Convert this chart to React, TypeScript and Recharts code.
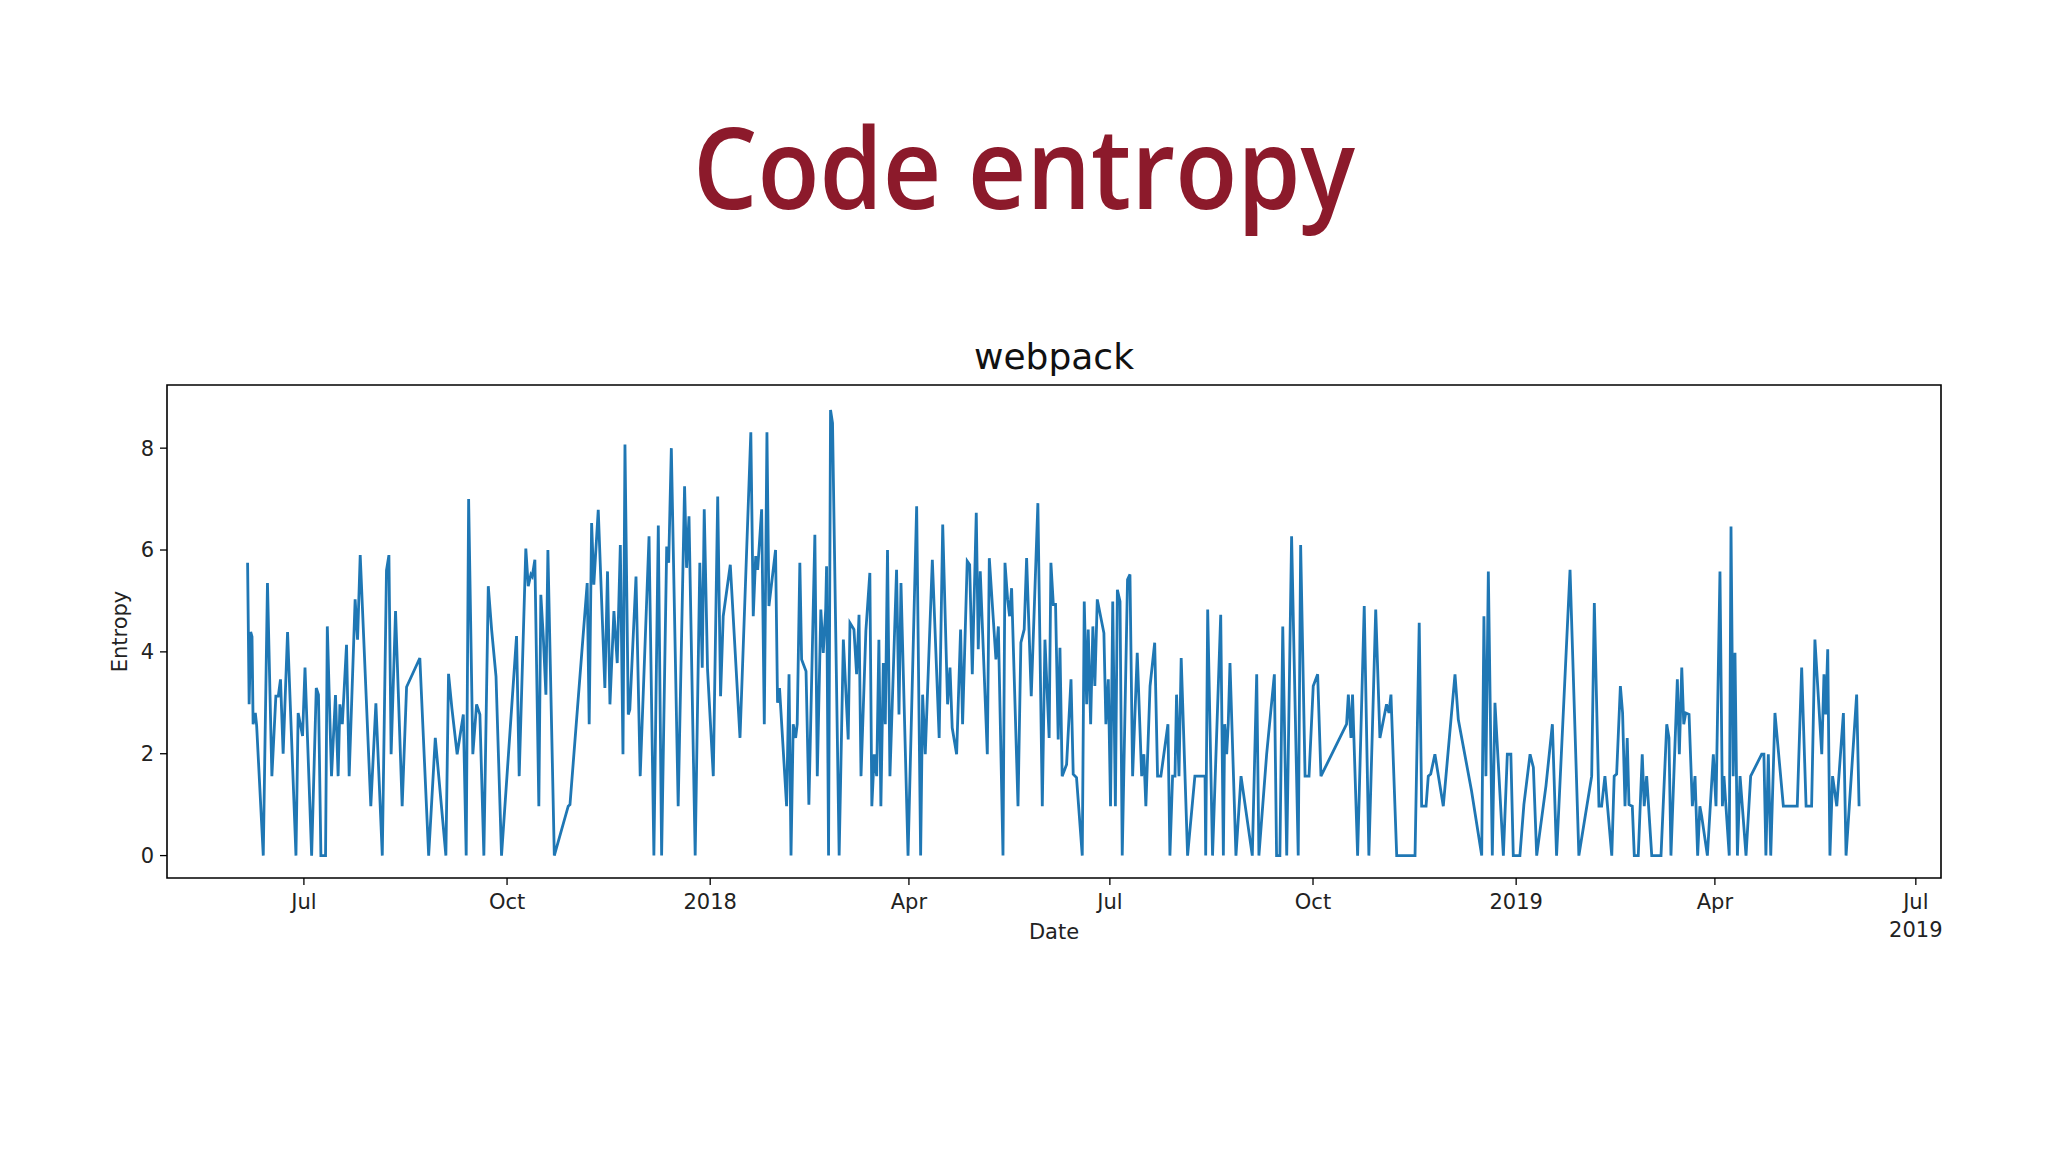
import { LineChart, Line, XAxis, YAxis, ReferenceArea } from 'recharts';

// days since 2017-07-01, one entry per commit sample
const commitDay = [
  -25.5, -24.8, -24.1, -23.5, -23.0, -22.0, -21.4, -18.4, -16.5, -14.5, -12.7, -11.6, -10.6, -9.4, -7.4, -3.6, -2.6, -0.6, 0.5, 3.5,
  5.6, 6.6, 7.7, 9.8, 10.6, 12.5, 14.3, 15.5, 16.3, 17.4, 19.3, 20.5, 23.2, 24.3, 25.5, 30.3, 32.6, 35.5, 37.4, 38.5,
  39.5, 41.5, 44.5, 46.5, 52.5, 56.5, 59.5, 64.3, 65.5, 67.0, 69.4, 72.2, 73.5, 74.6, 76.5, 78.2,
  79.7, 81.5, 83.5, 85.0, 87.0, 89.5, 96.3, 97.5, 100.5, 101.6, 102.8, 103.4, 104.6, 106.4, 107.3, 108.4, 109.6, 110.5, 113.4, 119.7,
  120.5, 128.3, 129.2, 130.3, 131.3, 133.3, 136.3, 137.5, 138.6, 140.4, 141.9, 143.3, 144.5, 145.4, 146.9,
  147.6, 150.4, 152.3, 156.3, 158.5, 160.5, 162.0, 164.3, 165.2, 166.4, 169.5, 172.4, 173.3, 174.4, 177.2, 179.3, 180.4, 181.3, 182.8, 185.4,
  187.4, 188.7, 189.9, 193.1, 197.5, 202.4, 203.5, 204.6, 205.5, 207.3, 208.5, 209.7, 210.6, 213.6, 214.5, 215.4,
  218.6, 219.7, 220.6, 221.6, 222.7, 223.4, 224.6, 225.4, 227.4, 228.7, 231.4, 232.5, 234.1, 235.2, 236.3, 236.7, 237.6, 238.5, 239.4, 242.4,
  244.3, 246.5, 247.3, 249.1, 250.3, 251.4, 252.3, 254.5, 256.3, 257.2, 258.3, 259.4, 260.4, 261.3, 262.4, 263.3, 264.3, 265.4, 268.4, 269.5,
  270.4, 273.6, 277.5, 279.3, 280.2, 281.4, 284.6, 287.7,
  289.3, 291.5, 292.6, 293.6, 295.6, 297.4, 298.3, 300.4, 301.5, 302.7, 304.5, 305.4, 306.3, 309.5, 310.4, 313.4, 314.5, 316.6, 317.5, 318.7,
  319.6, 320.5, 323.4, 324.7, 326.2, 327.3, 329.4, 332.4, 334.4, 335.6, 337.5, 338.3, 339.4, 340.4, 341.6, 342.4, 343.4, 345.4, 347.4, 348.4,
  349.9, 352.5, 353.4, 354.5, 355.2, 356.3, 357.3, 358.2,
  359.3, 362.3, 363.2, 364.3, 365.3, 366.3, 367.5, 368.4, 369.6, 370.6, 373.0, 374.1, 375.3, 377.4, 379.4, 380.4, 381.3, 383.2, 385.3, 386.6,
  388.1, 391.3, 392.2, 393.4, 394.5, 395.2, 396.3, 397.3, 400.2, 403.5, 408.1, 408.4, 409.3, 411.5, 415.2, 416.4, 417.0, 417.9, 418.6, 419.4,
  422.1, 424.4,
  429.5, 431.5, 432.5, 436.0, 439.5, 440.5, 442.0, 443.3, 445.1, 447.3, 450.3, 451.4, 453.4, 455.2, 457.1, 459.1, 460.6, 472.2, 473.0, 474.2,
  474.9, 477.2, 480.2, 482.3, 485.4, 487.3, 490.3, 491.4, 492.3, 494.9,
  499.0, 503.2, 505.1, 506.2, 508.2, 509.2, 510.3, 512.2, 516.0, 521.3, 522.8, 528.8, 533.4, 534.4, 535.3, 536.4, 538.2, 539.4, 543.2, 545.0,
  546.6, 547.7, 550.7, 552.5, 555.3, 556.8, 558.3, 562.5, 565.4, 567.3,
  573.4, 577.4, 583.2, 584.4, 586.5, 587.7, 589.2, 592.3, 593.4, 594.5, 596.2, 597.2, 598.3, 599.3, 600.1, 601.6, 602.5, 604.3, 606.1, 607.0,
  608.1, 610.4, 614.6, 617.2, 618.2, 619.1, 622.0, 622.9, 624.0, 624.9, 625.8, 627.3, 628.8, 630.0, 631.2, 632.2, 633.0, 635.6, 638.3,
  639.5, 641.3, 642.4, 643.1, 645.5, 646.3, 647.3, 648.1, 649.2, 650.4, 653.1, 655.2, 660.2, 661.2, 662.1, 663.2, 664.3, 666.2, 670.0, 676.3,
  678.3, 680.3, 682.8, 684.3, 687.4, 688.4, 689.2, 690.1, 691.1, 692.3, 694.2, 697.2, 698.4, 703.2, 704.3,
];

const entropy = [
  5.75, 2.97, 4.39, 4.3, 2.58, 2.8, 2.55, 0, 5.35, 1.56, 3.13, 3.13, 3.46, 2.0, 4.39, 0, 2.8, 2.35, 3.69, 0,
  3.29, 3.16, 0, 0, 4.5, 1.56, 3.15, 1.56, 2.97, 2.58, 4.14, 1.56, 5.03, 4.24, 5.9, 0.97, 2.99, 0, 5.6, 5.9,
  1.99, 4.8, 0.97, 3.31, 3.88, 0, 2.31, 0, 3.57, 2.9, 1.99, 2.77, 0, 7.0, 1.99, 2.97,
  2.77, 0, 5.29, 4.44, 3.52, 0, 4.31, 1.56, 6.03, 5.29, 5.52, 5.48, 5.81, 0.97, 5.12, 4.31, 3.16, 6.0, 0, 0.97,
  1.0, 5.35, 2.58, 6.53, 5.32, 6.79, 3.29, 5.58, 2.97, 4.8, 3.78, 6.1, 1.99, 8.07, 2.77,
  2.87, 5.48, 1.56, 6.27, 0, 6.48, 0, 6.07, 5.75, 8.0, 0.97, 7.25, 5.65, 6.66, 0, 5.75, 3.69, 6.8, 3.65, 1.56,
  7.05, 3.13, 4.7, 5.71, 2.31, 8.31, 4.7, 5.88, 5.61, 6.8, 2.58, 8.31, 4.9, 6.0, 3.0, 3.29,
  0.97, 3.56, 0, 2.58, 2.31, 2.58, 5.75, 3.85, 3.62, 1.0, 6.3, 1.56, 4.83, 3.98, 4.83, 5.68, 0, 8.75, 8.49, 0,
  4.24, 2.28, 4.57, 4.44, 3.56, 4.73, 1.56, 4.41, 5.55, 0.97, 1.99, 1.56, 4.24, 0.97, 3.78, 2.58, 6.0, 1.56, 5.61, 2.77,
  5.35, 0, 6.86, 0, 3.16, 1.99, 5.81, 2.31,
  6.5, 2.97, 3.69, 2.51, 1.99, 4.44, 2.58, 5.78, 5.71, 3.56, 6.73, 4.05, 5.58, 1.99, 5.84, 3.85, 4.5, 0, 5.75, 5.03,
  4.7, 5.25, 0.97, 4.18, 4.44, 5.84, 3.13, 6.92, 0.97, 4.24, 2.31, 5.75, 4.93, 4.93, 2.28, 4.08, 1.56, 1.79, 3.46, 1.6,
  1.53, 0, 4.99, 2.97, 4.44, 2.58, 4.5, 3.33,
  5.03, 4.37, 2.58, 3.46, 0.97, 4.99, 0.97, 5.22, 4.99, 0, 5.42, 5.52, 1.56, 3.98, 1.56, 1.99, 0.97, 3.33, 4.18, 1.56,
  1.56, 2.58, 0, 1.56, 1.56, 3.16, 1.56, 3.88, 0, 1.56, 1.56, 0, 4.83, 0, 4.73, 0, 2.58, 1.99, 2.58, 3.78,
  0, 1.56,
  0, 3.56, 0, 1.99, 3.56, 0, 0, 4.5, 0, 6.27, 0, 6.1, 1.56, 1.56, 3.33, 3.56, 1.56, 2.58, 3.16, 2.31,
  3.16, 0, 4.9, 0, 4.83, 2.31, 2.97, 2.8, 3.16, 0,
  0, 0, 4.57, 0.97, 0.97, 1.56, 1.6, 1.99, 0.97, 3.56, 2.67, 1.27, 0, 4.7, 1.56, 5.58, 0, 3.0, 0, 1.99,
  1.99, 0, 0, 1.0, 1.99, 1.73, 0, 1.37, 2.58, 0,
  5.61, 0, 1.56, 4.96, 0.97, 0.97, 1.56, 0, 1.56, 1.6, 3.33, 2.8, 0.97, 2.31, 1.0, 0.97, 0, 0, 1.99, 0.97,
  1.56, 0, 0, 2.58, 2.31, 0, 3.46, 1.99, 3.69, 2.58, 2.8, 2.77, 0.97, 1.56, 0, 0.97, 0.78, 0, 1.99,
  0.97, 5.58, 0.97, 1.56, 0, 6.46, 1.56, 3.98, 0, 1.56, 0, 1.56, 1.99, 1.99, 0, 1.99, 0, 2.8, 0.97, 0.97,
  3.69, 0.97, 0.97, 4.24, 1.99, 3.56, 2.77, 4.05, 0, 1.56, 0.97, 2.8, 0, 3.16, 0.97,
];

const tickDays = [0, 92, 184, 274, 365, 457, 549, 639, 730];
const tickLabels = ['Jul', 'Oct', '2018', 'Apr', 'Jul', 'Oct', '2019', 'Apr', 'Jul\n2019'];
const entropyTicks = [0, 2, 4, 6, 8];

const X_MIN = -62;
const X_MAX = 741.4;
const Y_MIN = -0.44;
const Y_MAX = 9.24;

const data = commitDay.map((d, i) => ({ day: d, entropy: entropy[i] }));

const FONT = '"DejaVu Sans", sans-serif';

const DateTick = (props: any) => {
  const { x, y, payload } = props;
  const idx = tickDays.indexOf(payload.value);
  const lines = (tickLabels[idx] ?? '').split('\n');
  return (
    <text x={x} y={y} textAnchor="middle" fontFamily={FONT} fontSize={21} fill="#222">
      {lines.map((l, i) => (
        <tspan key={i} x={x} dy={i === 0 ? '0.71em' : '1.33em'}>{l}</tspan>
      ))}
    </text>
  );
};

export default function App() {
  return (
    <div style={{ position: 'absolute', left: 0, top: 0, width: 2048, height: 1152, background: '#fff', overflow: 'hidden' }}>
      <div
        style={{
          position: 'absolute', left: 0, top: 109, width: 2048, textAlign: 'center',
          fontFamily: '"Open Sans", sans-serif', fontWeight: 600, fontSize: 113, lineHeight: '113px',
          color: '#8c1a2b', transform: 'scaleX(0.9)',
        }}
      >
        Code entropy
      </div>
      <div
        style={{
          position: 'absolute', left: 167, top: 339, width: 1774, textAlign: 'center',
          fontFamily: FONT, fontSize: 36, lineHeight: '36px', color: '#111',
        }}
      >
        webpack
      </div>
      <div style={{ position: 'absolute', left: 0, top: 0 }}>
        <LineChart width={2048} height={1152} data={data} margin={{ top: 385, right: 107, bottom: 214, left: 107 }}>
          <XAxis
            dataKey="day"
            type="number"
            domain={[X_MIN, X_MAX]}
            ticks={tickDays}
            interval={0}
            allowDataOverflow
            axisLine={false}
            tickLine={{ stroke: '#000', strokeWidth: 1.3 }}
            tickSize={7}
            tickMargin={9}
            tick={<DateTick />}
            height={60}
            label={(p: any) => {
              const vb = p.viewBox;
              return (
                <text x={vb.x + vb.width / 2} y={vb.y + 61} textAnchor="middle" fontFamily={FONT} fontSize={21} fill="#222">
                  Date
                </text>
              );
            }}
          />
          <YAxis
            type="number"
            domain={[Y_MIN, Y_MAX]}
            ticks={entropyTicks}
            interval={0}
            allowDataOverflow
            axisLine={false}
            tickLine={{ stroke: '#000', strokeWidth: 1.3 }}
            tickSize={7}
            tickMargin={6}
            tick={{ fontFamily: FONT, fontSize: 21, fill: '#222' }}
            width={60}
            label={(p: any) => {
              const vb = p.viewBox;
              const cx = vb.x + 13;
              const cy = vb.y + vb.height / 2;
              return (
                <text x={cx} y={cy} transform={`rotate(-90 ${cx} ${cy})`} textAnchor="middle" dominantBaseline="central" fontFamily={FONT} fontSize={21} fill="#222">
                  Entropy
                </text>
              );
            }}
          />
          <Line type="linear" dataKey="entropy" stroke="#1f77b4" strokeWidth={2.8} dot={false} activeDot={false} isAnimationActive={false} />
          <ReferenceArea x1={X_MIN} x2={X_MAX} y1={Y_MIN} y2={Y_MAX} fill="none" fillOpacity={0} stroke="#000" strokeWidth={1.6} ifOverflow="visible" />
        </LineChart>
      </div>
    </div>
  );
}
